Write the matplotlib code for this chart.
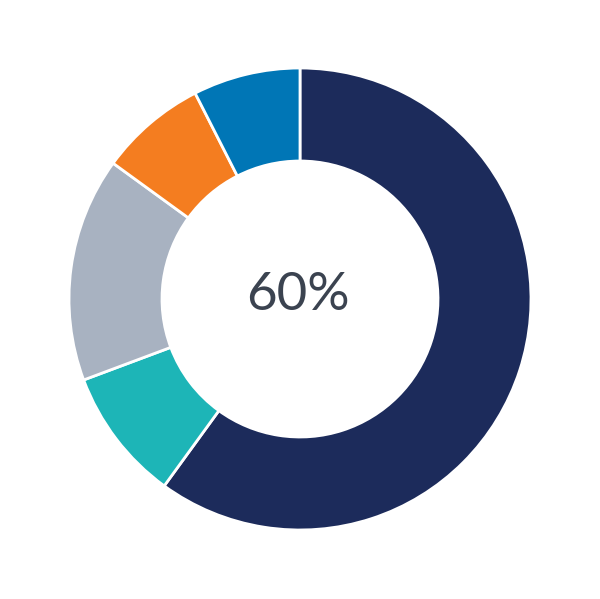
import matplotlib
matplotlib.use('Agg')
import matplotlib.pyplot as plt

# slice shares, clockwise from 12 o'clock
labels = ['Navy', 'Teal', 'Gray', 'Orange', 'Blue']
values = [60, 9.3, 15.7, 7.5, 7.5]
colors = ['#1c2b5b', '#1db5b7', '#a8b2c1', '#f47d20', '#0076b6']
center_text = '60%'

fig = plt.figure(figsize=(6.0, 5.99), dpi=100)
ax = fig.add_axes([0, 0, 1, 1])

ax.pie(values, colors=colors, startangle=90, counterclock=False,
       radius=2.31, center=(3.0, 3.0),
       wedgeprops=dict(width=0.93, edgecolor='white', linewidth=2))

ax.text(2.98, 3.03, center_text, ha='center', va='center',
        fontsize=38, color='#3b4350', family=['Lato', 'DejaVu Sans'])

ax.set_xlim(0, 6.0)
ax.set_ylim(0, 5.99)
ax.set_aspect('equal')
ax.axis('off')

fig.savefig('out.png', dpi=100, facecolor='white')
